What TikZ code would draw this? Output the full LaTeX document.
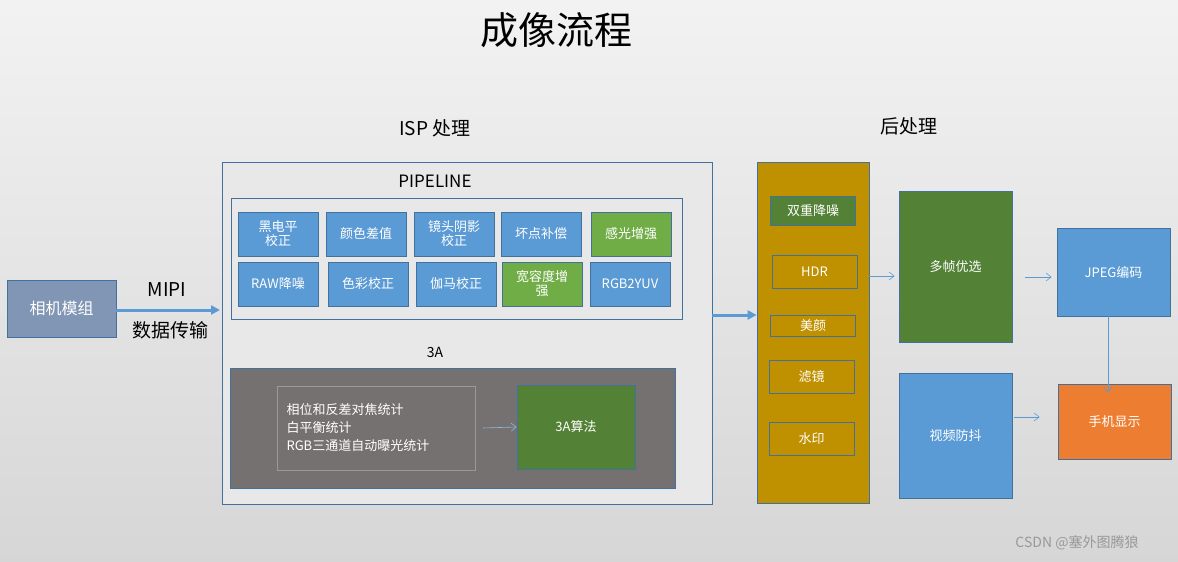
\documentclass[tikz,border=0pt]{standalone}
\usepackage{fontspec}
\setmainfont{Noto Sans CJK SC}
\usetikzlibrary{arrows.meta}
\definecolor{bl}{HTML}{5B9BD5}
\definecolor{bd}{HTML}{41719C}
\definecolor{gr}{HTML}{70AD47}
\definecolor{dg}{HTML}{538135}
\definecolor{gy}{HTML}{767171}
\definecolor{go}{HTML}{BF9000}
\definecolor{og}{HTML}{ED7D31}
\definecolor{sl}{HTML}{8096B4}
\begin{document}
\begin{tikzpicture}[x=1pt,y=-1pt,
 box/.style={draw=bd,line width=0.8pt,text=white,align=center,inner sep=1pt,font=\fontsize{13}{14}\selectfont},
 pb/.style={box,fill=bl,minimum width=80pt,minimum height=44pt},
 sb/.style={box,minimum width=85pt},
 thin/.style={-{Straight Barb[length=5pt,width=8pt]},draw=bl,line width=0.6pt},
 thick/.style={-{Triangle[length=9pt,width=9pt]},draw=bl,line width=3pt},
 lab/.style={font=\fontsize{19}{20}\selectfont}]
\useasboundingbox (0,0) rectangle (1178,562);
\shade[top color=white!95!black,bottom color=white!84!black] (0,0) rectangle (1178,562);
\node[font=\fontsize{38}{40}\selectfont] (title) at (556,30) {成像流程};
\node[box,fill=sl,minimum width=109pt,minimum height=57pt,font=\fontsize{16}{18}\selectfont] (cam) at (61.5,308.5) {相机模组};
\node[lab] (isp) at (435,128) {ISP 处理};
\node[draw=bd,line width=0.8pt,fill=white!91!black,minimum width=490pt,minimum height=342pt] (ispb) at (467,333) {};
\coordinate (ispw) at (220,310);
\draw[thick] (cam.east |- 0,310) -- (ispw);
\node[lab] (mipi) at (167,290) {MIPI};
\node[lab] (dt) at (170,330) {数据传输};
\node[font=\fontsize{17}{18}\selectfont] (pl) at (435,181) {PIPELINE};
\node[draw=bd,line width=0.8pt,minimum width=451pt,minimum height=121pt] (plb) at (456.5,258.5) {};
\node[pb] (a1) at (278,234) {黑电平\\校正};
\node[pb] (a2) at (366,234) {颜色差值};
\node[pb] (a3) at (454,234) {镜头阴影\\校正};
\node[pb] (a4) at (541,234) {坏点补偿};
\node[pb,fill=gr] (a5) at (631,234) {感光增强};
\node[pb] (b1) at (278,284) {RAW降噪};
\node[pb] (b2) at (368,284) {色彩校正};
\node[pb] (b3) at (456,284) {伽马校正};
\node[pb,fill=gr] (b4) at (542,284) {宽容度增\\强};
\node[pb] (b5) at (630,284) {RGB2YUV};
\node[font=\fontsize{14}{16}\selectfont] (t3a) at (435,352) {3A};
\node[draw=bd,line width=0.8pt,fill=gy,minimum width=445pt,minimum height=120pt] (b3a) at (452.5,428) {};
\node[draw=white!60!black,line width=0.8pt,minimum width=198pt,minimum height=84pt] (st) at (376,428) {};
\node[text=white,align=left,anchor=west,font=\fontsize{13}{18}\selectfont] (stt) at (283,428) {相位和反差对焦统计\\白平衡统计\\RGB三通道自动曝光统计};
\node[box,fill=dg,minimum width=118pt,minimum height=84pt] (alg) at (576,427) {3A算法};
\draw[thin,draw=bl!70!white] (483,428) -- (alg.west);
\node[lab] (post) at (909,126) {后处理};
\node[draw=bd,line width=0.8pt,fill=go,minimum width=112pt,minimum height=341pt] (pb) at (813,332.5) {};
\draw[thick] (ispb.east |- 0,315) -- (pb.west |- 0,315);
\node[sb,fill=dg,minimum height=29pt] (p1) at (813,210.5) {双重降噪};
\node[sb,minimum height=33pt] (p2) at (814.5,271.5) {HDR};
\node[sb,minimum height=21pt] (p3) at (813,325.5) {美颜};
\node[sb,minimum height=33pt] (p4) at (811.5,376.5) {滤镜};
\node[sb,minimum height=33pt] (p5) at (811.5,438.5) {水印};
\node[box,fill=dg,minimum width=113pt,minimum height=151pt] (m) at (955.5,266.5) {多帧优选};
\node[box,fill=bl,minimum width=113pt,minimum height=88pt] (j) at (1113.5,272) {JPEG编码};
\node[box,fill=bl,minimum width=113pt,minimum height=125pt] (v) at (955.5,435.5) {视频防抖};
\node[box,fill=og,minimum width=113pt,minimum height=75pt] (s) at (1114.5,421.5) {手机显示};
\draw[thin] (pb.east |- 0,276) -- ([xshift=-4pt]m.west |- 0,276);
\draw[thin] ([xshift=13pt]m.east |- 0,277) -- ([xshift=-5pt]j.west |- 0,277);
\draw[thin] ([yshift=9pt]j.south -| 1108,0) -- ([yshift=-9pt]s.north -| 1108,0);
\draw[thin] ([xshift=2pt]v.east |- 0,417) -- ([xshift=-18pt]s.west |- 0,417);
\node[text=white!60!black,font=\fontsize{14}{16}\selectfont] (wm) at (1077,543) {CSDN @塞外图腾狼};
\end{tikzpicture}
\end{document}
